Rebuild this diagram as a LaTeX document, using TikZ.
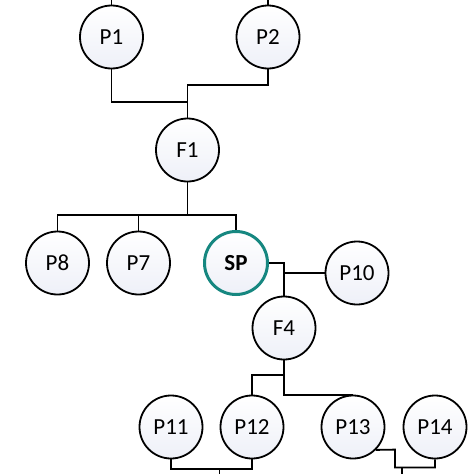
\documentclass[tikz,border=0pt]{standalone}
\usepackage{fontspec}
\setmainfont{Carlito}
\definecolor{spteal}{RGB}{22,135,128}
\definecolor{cfill}{RGB}{238,240,248}
\begin{document}
\begin{tikzpicture}[x=1pt,y=-1pt,
  pnode/.style={circle,draw=black,line width=1.8pt,minimum size=63pt,inner sep=0pt,
    top color=white,bottom color=cfill,font=\fontsize{23}{27}\selectfont},
  spnode/.style={pnode,draw=spteal,line width=3pt,font=\fontsize{23}{27}\selectfont\bfseries},
  link/.style={line width=1.8pt,draw=black}]
\useasboundingbox (0,0) rectangle (474,474);
\node[pnode] (P1) at (111.5,37) {P1};
\node[pnode] (P2) at (268,37) {P2};
\node[pnode] (F1) at (187.5,150) {F1};
\node[pnode] (P8) at (57.5,263) {P8};
\node[pnode] (P7) at (138.5,263) {P7};
\node[spnode] (SP) at (236,263) {SP};
\node[pnode] (P10) at (357,273) {P10};
\node[pnode] (F4) at (284,328) {F4};
\node[pnode] (P11) at (171,427) {P11};
\node[pnode] (P12) at (252,427) {P12};
\node[pnode] (P13) at (353,427) {P13};
\node[pnode] (P14) at (435,427) {P14};
\coordinate (t1) at (111.5,0);
\coordinate (t2) at (268,0);
\coordinate (j1) at (187.5,102);
\coordinate (j1b) at (187.5,85);
\coordinate (j2) at (187.5,215);
\coordinate (j3) at (284,263);
\coordinate (j3b) at (284,273);
\coordinate (j4) at (284,375);
\coordinate (j5) at (284,395);
\coordinate (j6) at (219.5,469);
\coordinate (b6) at (219.5,474);
\coordinate (k1) at (395,449.6);
\coordinate (k2) at (395,467.5);
\coordinate (j7) at (402,467.5);
\coordinate (b7) at (402,474);
\draw[link] (t1) -- (P1.north);
\draw[link] (t2) -- (P2.north);
\draw[link] (P1.south) |- (j1);
\draw[link] (P2.south) |- (j1b) -- (F1.north);
\draw[link] (F1.south) -- (j2);
\draw[link] (P8.north) |- (j2) -| (SP.north);
\draw[link] (P7.north) -- (P7.north |- j2);
\draw[link] (SP.east) -- (j3) -- (F4.north);
\draw[link] (j3b) -- (P10.west);
\draw[link] (F4.south) -- (j5) -| (P13.north);
\draw[link] (j4) -| (P12.north);
\draw[link] (P11.south) |- (j6) -| (P12.south);
\draw[link] (j6) -- (b6);
\draw[link] (P13.-45) -- (k1) -- (k2) -| (P14.south);
\draw[link] (j7) -- (b7);
\end{tikzpicture}
\end{document}
